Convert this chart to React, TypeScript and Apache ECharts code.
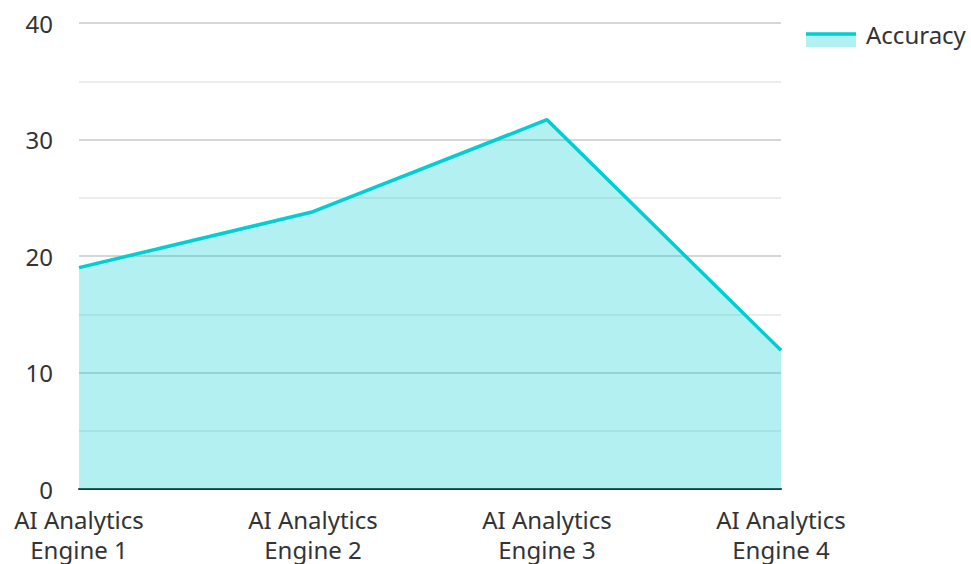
import React, { useEffect, useRef } from "react";
import * as echarts from "echarts";

const categories = [
  "AI Analytics Engine 1",
  "AI Analytics Engine 2",
  "AI Analytics Engine 3",
  "AI Analytics Engine 4",
];
const accuracy = [19.0, 23.8, 31.7, 11.9];
const yTicks = [0, 10, 20, 30, 40];
const seriesName = "Accuracy";

export default function App() {
  const ref = useRef<HTMLDivElement>(null);
  useEffect(() => {
    if (!ref.current) return;
    const chart = echarts.init(ref.current, undefined, { renderer: "svg" });
    const font = "'Noto Sans', 'Open Sans', sans-serif";
    chart.setOption({
      animation: false,
      textStyle: { fontFamily: font },
      legend: { show: false },
      graphic: [
        {
          type: "rect",
          shape: { x: 806, y: 34, width: 50, height: 13 },
          style: { fill: "#b2f0f1" },
        },
        {
          type: "line",
          shape: { x1: 806, y1: 34, x2: 856, y2: 34 },
          style: { stroke: "#00CED1", lineWidth: 3.5 },
        },
        {
          type: "text",
          x: 866,
          y: 34,
          style: {
            text: seriesName,
            fontSize: 24,
            fill: "#333",
            fontFamily: font,
            verticalAlign: "middle",
            align: "left",
          },
        },
      ],
      grid: { left: 79, right: 190, top: 23, bottom: 74, containLabel: false },
      xAxis: {
        type: "category",
        data: categories,
        boundaryGap: false,
        axisLine: { show: true, lineStyle: { color: "#333", width: 2 } },
        axisTick: { show: false },
        axisLabel: {
          fontSize: 24,
          color: "#333",
          lineHeight: 30,
          margin: 15,
          fontFamily: font,
          formatter: (v: string) => v.replace(" Engine", "\nEngine"),
        },
        splitLine: { show: false },
      },
      yAxis: {
        type: "value",
        min: yTicks[0],
        max: yTicks[yTicks.length - 1],
        interval: 10,
        axisLine: { show: false },
        axisTick: { show: false },
        axisLabel: { fontSize: 24, lineHeight: 20, color: "#333", margin: 26, fontFamily: font },
        splitLine: { show: true, lineStyle: { color: "#c8c8c8", width: 1.5 } },
        minorTick: { show: false, splitNumber: 2 },
        minorSplitLine: { show: true, lineStyle: { color: "#e6e6e6", width: 1.5 } },
      },
      series: [
        {
          name: seriesName,
          type: "line",
          data: accuracy,
          symbol: "none",
          lineStyle: { color: "#00CED1", width: 3.5 },
          itemStyle: { color: "#00CED1" },
          areaStyle: { color: "#00CED1", opacity: 0.3 },
        },
      ],
    });
    return () => chart.dispose();
  }, []);
  return <div ref={ref} style={{ width: 971, height: 564, position: "absolute", left: 0, top: 0 }} />;
}
